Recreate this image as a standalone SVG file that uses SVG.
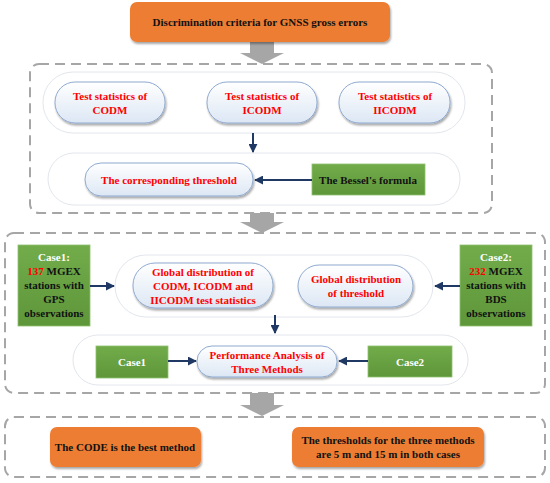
<svg xmlns="http://www.w3.org/2000/svg" width="550" height="483" viewBox="0 0 550 483">
<defs>
<linearGradient id="pillg" x1="0" y1="0" x2="0" y2="1">
<stop offset="0" stop-color="#ffffff"/><stop offset="1" stop-color="#dce7f4"/>
</linearGradient>
<linearGradient id="greeng" x1="0" y1="0" x2="0" y2="1">
<stop offset="0" stop-color="#72ac4a"/><stop offset="1" stop-color="#5e963a"/>
</linearGradient>
<filter id="sh" x="-10%" y="-20%" width="130%" height="150%">
<feGaussianBlur in="SourceAlpha" stdDeviation="1.2"/>
<feOffset dx="1" dy="2" result="b"/>
<feComponentTransfer><feFuncA type="linear" slope="0.35"/></feComponentTransfer>
<feMerge><feMergeNode/><feMergeNode in="SourceGraphic"/></feMerge>
</filter>
<marker id="ah" viewBox="0 0 10 10" refX="9" refY="5" markerWidth="4.5" markerHeight="4.5" orient="auto" markerUnits="strokeWidth">
<path d="M0,0 L10,5 L0,10 z" fill="#1f3864"/>
</marker>
</defs>
<style>
.dash{fill:none;stroke:#a6a6a6;stroke-width:2;stroke-dasharray:10 6}
.cont{fill:#ffffff;stroke:#e2e6ec;stroke-width:1}
.pill{fill:url(#pillg);stroke:#8eaad0;stroke-width:1;filter:url(#sh)}
.green{fill:url(#greeng);stroke:#8fc070;stroke-width:0.8}
.orange{fill:#ed7d31;filter:url(#sh)}
.gray{fill:#a6a6a6}
.t{font-family:"Liberation Serif","Times New Roman",serif;font-weight:bold;font-size:11px;text-anchor:middle}
.red{fill:#ff0000}
.blk{fill:#111111}
.wht{fill:#ffffff}
.conn{stroke:#1f3864;stroke-width:2;fill:none;marker-end:url(#ah)}
</style>
<rect width="550" height="483" fill="#ffffff"/>

<!-- frames -->
<rect class="dash" x="30" y="64" width="462" height="149" rx="9"/>
<rect class="dash" x="5" y="233" width="540" height="160" rx="9"/>
<rect class="dash" x="5" y="417" width="540" height="60" rx="9"/>

<!-- containers -->
<rect class="cont" x="43" y="72" width="422" height="61" rx="30"/>
<rect class="cont" x="48" y="153" width="412" height="52" rx="26"/>
<rect class="cont" x="115" y="255" width="318" height="62" rx="31"/>
<rect class="cont" x="73" y="335" width="395" height="50" rx="25"/>

<!-- gray block arrows -->
<g id="garrows">
<path class="gray" d="M250,42 H274 V53 H284 L262,64 L240,53 H250 Z"/>
<path class="gray" d="M250,213 H274 V222 H284 L262,233 L240,222 H250 Z"/>
<path class="gray" d="M250,393 H274 V405 H284 L262,416 L240,405 H250 Z"/>
</g>

<g id="n_title">
<rect class="orange" x="130" y="2" width="260" height="40" rx="7"/>
<text class="t blk" x="260" y="26">Discrimination criteria for GNSS gross errors</text>
</g>

<g id="n_codm">
<rect class="pill" x="55" y="82" width="110" height="41" rx="20"/>
<text class="t red" x="110" y="100">Test statistics of</text>
<text class="t red" x="110" y="114">CODM</text>
</g>
<g id="n_icodm">
<rect class="pill" x="207" y="82" width="110" height="41" rx="20"/>
<text class="t red" x="262" y="100">Test statistics of</text>
<text class="t red" x="262" y="114">ICODM</text>
</g>
<g id="n_iicodm">
<rect class="pill" x="339" y="82" width="111" height="41" rx="20"/>
<text class="t red" x="395" y="100">Test statistics of</text>
<text class="t red" x="395" y="114">IICODM</text>
</g>

<g id="n_threshold">
<rect class="pill" x="85" y="163" width="168" height="33" rx="16"/>
<text class="t red" x="169" y="184">The corresponding threshold</text>
</g>
<g id="n_bessel">
<rect class="green" x="312" y="164" width="113" height="31"/>
<text class="t blk" x="368" y="184">The Bessel's formula</text>
</g>

<g id="n_case1a">
<rect class="green" x="18" y="245" width="72" height="81"/>
<text class="t wht" x="54" y="261">Case1:</text>
<text class="t blk" x="54" y="275"><tspan class="red">137</tspan> MGEX</text>
<text class="t blk" x="54" y="289">stations with</text>
<text class="t blk" x="54" y="303">GPS</text>
<text class="t blk" x="54" y="317">observations</text>
</g>
<g id="n_global1">
<rect class="pill" x="133" y="263" width="140" height="45" rx="22"/>
<text class="t red" x="203" y="276">Global distribution of</text>
<text class="t red" x="203" y="290">CODM, ICODM and</text>
<text class="t red" x="203" y="304">IICODM test statistics</text>
</g>
<g id="n_global2">
<rect class="pill" x="298" y="265" width="115" height="42" rx="21"/>
<text class="t red" x="356" y="283">Global distribution</text>
<text class="t red" x="356" y="297">of threshold</text>
</g>
<g id="n_case2a">
<rect class="green" x="460" y="245" width="72" height="81"/>
<text class="t wht" x="496" y="261">Case2:</text>
<text class="t blk" x="496" y="275"><tspan class="red">232</tspan> MGEX</text>
<text class="t blk" x="496" y="289">stations with</text>
<text class="t blk" x="496" y="303">BDS</text>
<text class="t blk" x="496" y="317">observations</text>
</g>

<g id="n_case1b">
<rect class="green" x="96" y="346" width="72" height="32"/>
<text class="t wht" x="132" y="366">Case1</text>
</g>
<g id="n_perf">
<rect class="pill" x="197" y="346" width="140" height="31" rx="15"/>
<text class="t red" x="267" y="359">Performance Analysis of</text>
<text class="t red" x="267" y="373">Three Methods</text>
</g>
<g id="n_case2b">
<rect class="green" x="368" y="346" width="84" height="31"/>
<text class="t wht" x="410" y="366">Case2</text>
</g>

<g id="n_best">
<rect class="orange" x="50" y="427" width="151" height="40" rx="7"/>
<text class="t blk" x="125" y="451">The CODE is the best method</text>
</g>
<g id="n_thr">
<rect class="orange" x="292" y="427" width="192" height="40" rx="7"/>
<text class="t blk" x="388" y="444">The thresholds for the three methods</text>
<text class="t blk" x="388" y="458">are 5 m and 15 m in both cases</text>
</g>

<g id="connectors">
<line class="conn" x1="253" y1="133" x2="253" y2="152"/>
<line class="conn" x1="312" y1="180" x2="255" y2="180"/>
<line class="conn" x1="90" y1="286" x2="114" y2="286"/>
<line class="conn" x1="460" y1="286" x2="435" y2="286"/>
<line class="conn" x1="275" y1="315" x2="275" y2="333"/>
<line class="conn" x1="168" y1="361" x2="196" y2="361"/>
<line class="conn" x1="368" y1="361" x2="339" y2="361"/>
</g>
</svg>
